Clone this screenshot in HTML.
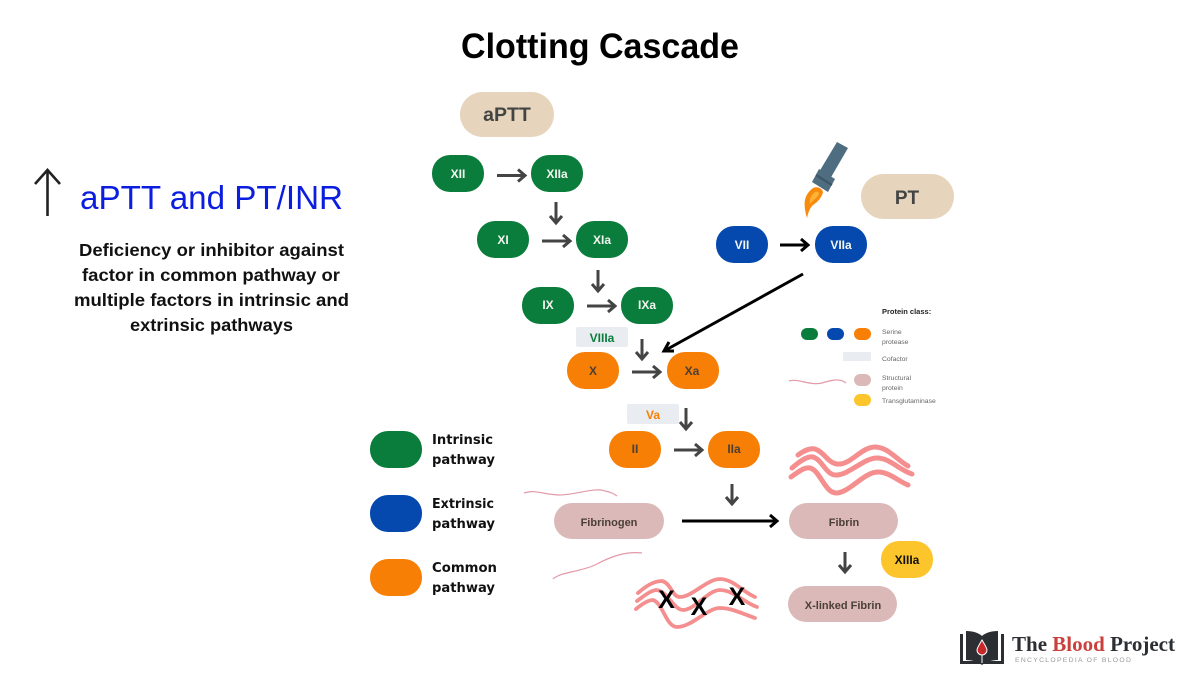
<!DOCTYPE html>
<html><head><meta charset="utf-8"><style>
html,body{margin:0;padding:0;background:#fff}
svg{display:block}
text{font-family:"Liberation Sans",sans-serif}
.n{font-size:12px;font-weight:700;text-anchor:middle}
.w{fill:#f2f5f0}.d{fill:#4a3f36}
.a{fill:none;stroke:#444;stroke-width:3}
.k{fill:none;stroke:#000;stroke-width:3}
.s{fill:none;stroke:#f58f8f;stroke-width:5;stroke-linecap:round}
.s2{fill:none;stroke:#f58f8f;stroke-width:3.8;stroke-linecap:round}
.t{fill:none;stroke:#e39aa8;stroke-width:1.2}
text.l{font-family:"DejaVu Sans",sans-serif;font-size:13.2px;font-weight:700;fill:#111}
.b{font-size:17.8px;font-weight:700;fill:#111}
.g{font-size:6.8px;fill:#666}
</style></head><body>
<svg width="1200" height="675" viewBox="0 0 1200 675" xmlns="http://www.w3.org/2000/svg">
<rect width="1200" height="675" fill="#fff"/>
<text x="461" y="58" textLength="278" lengthAdjust="spacingAndGlyphs" style="font-size:35px;font-weight:700" fill="#000">Clotting Cascade</text>

<!-- left panel -->
<path d="M47.500 216V170M35 184L47.500 170L60 184" fill="none" stroke="#222" stroke-width="2.600"/>
<text x="80" y="209" textLength="263" lengthAdjust="spacingAndGlyphs" style="font-size:33px" fill="#0b1ee0">aPTT and PT/INR</text>
<text class="b" x="79" y="256" textLength="265" lengthAdjust="spacingAndGlyphs">Deficiency or inhibitor against</text>
<text class="b" x="82" y="281" textLength="258" lengthAdjust="spacingAndGlyphs">factor in common pathway or</text>
<text class="b" x="74" y="306" textLength="275" lengthAdjust="spacingAndGlyphs">multiple factors in intrinsic and</text>
<text class="b" x="130" y="331" textLength="163" lengthAdjust="spacingAndGlyphs">extrinsic pathways</text>

<!-- pills -->
<rect x="460" y="92" width="94" height="45" rx="22.500" fill="#e6d5bc"/>
<text x="507" y="121" text-anchor="middle" style="font-size:19.500px;font-weight:700" fill="#444">aPTT</text>
<rect x="861" y="174" width="93" height="45" rx="22.500" fill="#e6d5bc"/>
<text x="907" y="204" text-anchor="middle" style="font-size:19px;font-weight:700" fill="#444">PT</text>

<g fill="#0a7d3c">
<rect x="432" y="155" width="52" height="37" rx="18"/><rect x="531" y="155" width="52" height="37" rx="18"/>
<rect x="477" y="221" width="52" height="37" rx="18"/><rect x="576" y="221" width="52" height="37" rx="18"/>
<rect x="522" y="287" width="52" height="37" rx="18"/><rect x="621" y="287" width="52" height="37" rx="18"/>
<rect x="370" y="431" width="52" height="37" rx="18"/>
</g>
<g fill="#0548ae">
<rect x="716" y="226" width="52" height="37" rx="18"/><rect x="815" y="226" width="52" height="37" rx="18"/>
<rect x="370" y="495" width="52" height="37" rx="18"/>
</g>
<g fill="#f77f05">
<rect x="567" y="352" width="52" height="37" rx="18"/><rect x="667" y="352" width="52" height="37" rx="18"/>
<rect x="609" y="431" width="52" height="37" rx="18"/><rect x="708" y="431" width="52" height="37" rx="18"/>
<rect x="370" y="559" width="52" height="37" rx="18"/>
</g>
<g fill="#dcb9b9">
<rect x="554" y="503" width="110" height="36" rx="18"/><rect x="789" y="503" width="109" height="36" rx="18"/>
<rect x="788" y="586" width="109" height="36" rx="18"/>
</g>
<rect x="881" y="541" width="52" height="37" rx="18" fill="#fdc52c"/>
<rect x="576" y="327" width="52" height="20" rx="2" fill="#e9edf1"/>
<rect x="627" y="404" width="52" height="20" rx="2" fill="#e9edf1"/>

<g class="n">
<text class="n w" x="458" y="178">XII</text><text class="n w" x="557" y="178">XIIa</text>
<text class="n w" x="503" y="244">XI</text><text class="n w" x="602" y="244">XIa</text>
<text class="n w" x="548" y="309">IX</text><text class="n w" x="647" y="309">IXa</text>
<text class="n w" x="742" y="249">VII</text><text class="n w" x="841" y="249">VIIa</text>
<text class="n d" x="593" y="375">X</text><text class="n d" x="692" y="375">Xa</text>
<text class="n d" x="635" y="453">II</text><text class="n d" x="734" y="453">IIa</text>
<text class="n d" x="609" y="526" style="font-size:11px">Fibrinogen</text>
<text class="n d" x="844" y="526" style="font-size:11px">Fibrin</text>
<text class="n d" x="843" y="609" style="font-size:11px">X-linked Fibrin</text>
<text class="n" x="907" y="564" fill="#111">XIIIa</text>
<text class="n" x="602" y="342" fill="#0a7d3c">VIIIa</text>
<text class="n" x="653" y="419" fill="#f77f05">Va</text>
</g>

<!-- grey arrows -->
<g class="a">
<path d="M497 175.500H525M518 169.500L525 175.500L518 181.500"/>
<path d="M542 241H570M563 235L570 241L563 247"/>
<path d="M587 306H615M608 300L615 306L608 312"/>
<path d="M632 372H660M653 366L660 372L653 378"/>
<path d="M674 450H702M695 444L702 450L695 456"/>
<path d="M556 202V223M550 216L556 223L562 216"/>
<path d="M598 270V291M592 284L598 291L604 284"/>
<path d="M642 339V359M636 352L642 359L648 352"/>
<path d="M686 408V429M680 422L686 429L692 422"/>
<path d="M732 484V504M726 497L732 504L738 497"/>
<path d="M845 552V572M839 565L845 572L851 565"/>
</g>
<!-- black arrows -->
<g class="k">
<path d="M780 245H808M801 239L808 245L801 251"/>
<path d="M803 274L664 351M674 351L664 351L669 342"/>
<path d="M682 521H777M770 515L777 521L770 527"/>
</g>

<!-- rocket -->
<polygon points="837,142 848,148 830,179 819,172" fill="#4f6d80"/>
<polygon points="819,169 835,179 828,192 812,182" fill="#4f6d80"/>
<polygon points="816.500,174 832.500,184 831.500,186 815.500,176" fill="#3d5566"/>
<path d="M813 188C817 186 822 188 823 192C822 197 818 202 813 205C809 209 808 214 807 218C805 212 804 204 805 200C806 195 809 191 813 188Z" fill="#f98b0c"/>
<path d="M815 192C817 191 819 192 819 194C817 198 813 200 810 204C809 200 811 195 815 192Z" fill="#fdb33a"/>

<!-- fibrin strands -->
<g class="s">
<path d="M798 455C805 450 810 448 815 449C825 452 828 465 840 464C852 463 862 447 875 447C888 447 897 460 908 466"/>
<path d="M792 468C800 461 807 456 813 457C823 460 826 476 837 475C850 474 864 458 877 458C890 458 899 470 912 474"/>
<path d="M791 477C798 472 804 467 810 468C820 470 825 494 837 493C850 492 864 472 878 472C889 472 898 481 908 485"/>
</g>
<g class="s2">
<path d="M638 593C645 587 653 581 662 581C671 583 672 597 680 597C692 597 707 579 720 579C733 579 743 592 755 597"/>
<path d="M637 601C644 596 651 590 657 590C668 592 674 610 683 610C695 610 708 590 720 590C733 590 745 603 757 607"/>
<path d="M636 609C642 604 648 600 653 600C663 603 666 627 677 627C692 627 707 608 720 608C732 608 743 614 755 618"/>
</g>
<g fill="#000">
<text x="666.500" y="608" text-anchor="middle" style="font-size:25px;font-weight:700">X</text><text x="699" y="615" text-anchor="middle" style="font-size:25px;font-weight:700">X</text><text x="737" y="605" text-anchor="middle" style="font-size:25px;font-weight:700">X</text>
</g>
<g class="t">
<path d="M524 493C535 489 545 495 560 495C575 495 595 487 605 491C611 492 614 494 617 496"/>
<path d="M553 579C560 572 580 572 595 565C610 557 625 551 642 553"/>
<path d="M789 381C798 378 810 386 822 383C832 380 840 378 846 383"/>
</g>

<!-- legend -->
<text class="l" x="432" y="444" textLength="61" lengthAdjust="spacingAndGlyphs">Intrinsic</text><text class="l" x="432" y="464" textLength="63" lengthAdjust="spacingAndGlyphs">pathway</text>
<text class="l" x="432" y="508" textLength="62" lengthAdjust="spacingAndGlyphs">Extrinsic</text><text class="l" x="432" y="528" textLength="63" lengthAdjust="spacingAndGlyphs">pathway</text>
<text class="l" x="432" y="572" textLength="65" lengthAdjust="spacingAndGlyphs">Common</text><text class="l" x="432" y="592" textLength="63" lengthAdjust="spacingAndGlyphs">pathway</text>

<!-- protein class -->
<text x="882" y="314" style="font-size:7.500px;font-weight:700" fill="#222">Protein class:</text>
<rect x="801" y="328" width="17" height="12" rx="6" fill="#0a7d3c"/>
<rect x="827" y="328" width="17" height="12" rx="6" fill="#0548ae"/>
<rect x="854" y="328" width="17" height="12" rx="6" fill="#f77f05"/>
<rect x="843" y="352" width="28" height="9" fill="#e9edf1"/>
<rect x="854" y="374" width="17" height="12" rx="6" fill="#dcb9b9"/>
<rect x="854" y="394" width="17" height="12" rx="6" fill="#fdc52c"/>
<g>
<text class="g" x="882" y="334">Serine</text><text class="g" x="882" y="344">protease</text>
<text class="g" x="882" y="361">Cofactor</text>
<text class="g" x="882" y="380">Structural</text><text class="g" x="882" y="390">protein</text>
<text class="g" x="882" y="403">Transglutaminase</text>
</g>

<!-- logo -->
<path d="M960 634V664H1004V634H1001V661H963V634Z" fill="#2b2e33"/>
<path d="M966 631C973 631 979 633 982 636V665C978 662 972 660 966 660Z" fill="#2b2e33"/>
<path d="M998 631C991 631 985 633 982 636V665C986 662 992 660 998 660Z" fill="#2b2e33"/>
<path d="M982 640C979 645 977 648 977 650A5 5 0 0 0 987 650C987 648 985 645 982 640Z" fill="#c8282c" stroke="#fff" stroke-width="1"/>
<rect x="981.500" y="655" width="1" height="8" fill="#fff"/>
<text x="1012" y="651" textLength="163" lengthAdjust="spacingAndGlyphs" style="font-family:'Liberation Serif',serif;font-size:21.500px;font-weight:700" fill="#2b2e33">The <tspan fill="#c9403c">Blood</tspan> Project</text>
<text x="1015" y="662" style="font-size:6.800px;letter-spacing:1.300px" fill="#999">ENCYCLOPEDIA OF BLOOD</text>
</svg>
</body></html>
